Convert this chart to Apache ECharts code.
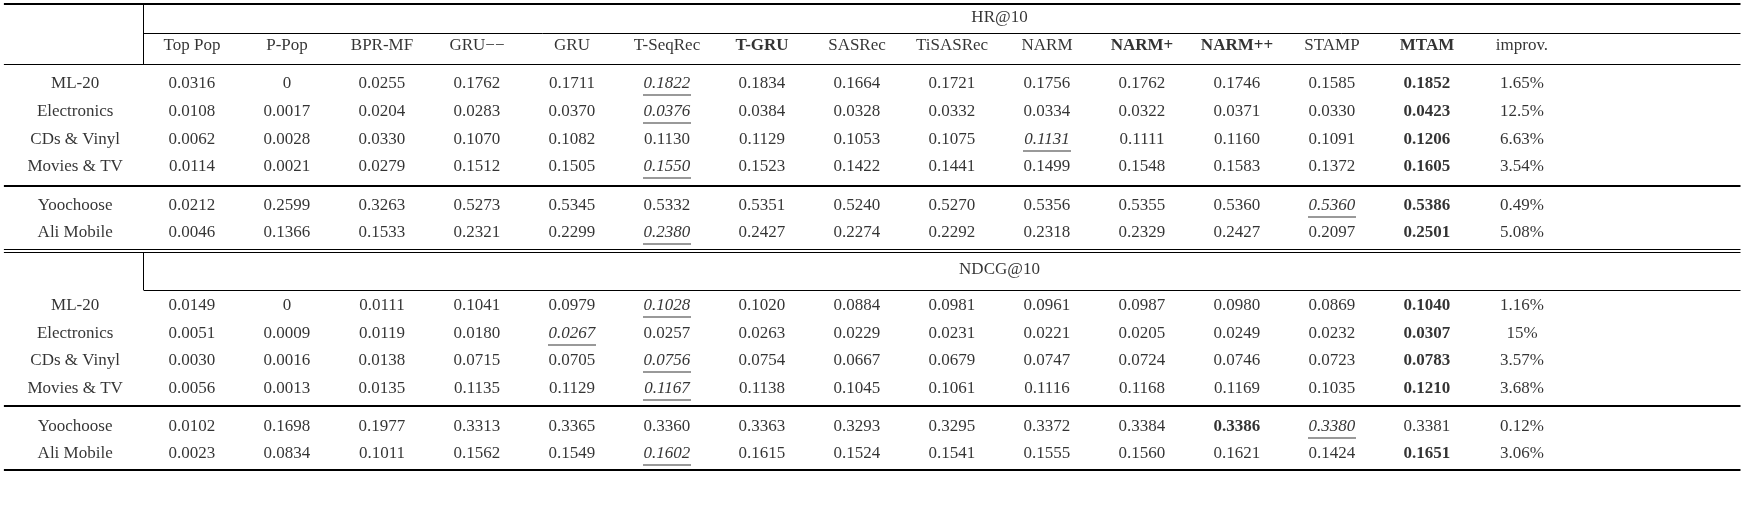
<!DOCTYPE html>
<html><head><meta charset="utf-8">
<script src="https://cdn.jsdelivr.net/npm/echarts@6/dist/echarts.min.js"></script>
<style>html,body{margin:0;padding:0;background:#fff}#c{width:1746px;height:527px}</style>
</head><body><div id="c"></div>
<script>
var columns = ['Top Pop','P-Pop','BPR-MF','GRU\u2212\u2212','GRU','T-SeqRec','T-GRU','SASRec','TiSASRec','NARM','NARM+','NARM++','STAMP','MTAM','improv.']
var boldColumns = [6, 10, 11, 13]
var datasets = ['ML-20','Electronics','CDs & Vinyl','Movies & TV','Yoochoose','Ali Mobile']
var hr = [
    ['0.0316','0','0.0255','0.1762','0.1711','0.1822','0.1834','0.1664','0.1721','0.1756','0.1762','0.1746','0.1585','0.1852','1.65%'],
    ['0.0108','0.0017','0.0204','0.0283','0.0370','0.0376','0.0384','0.0328','0.0332','0.0334','0.0322','0.0371','0.0330','0.0423','12.5%'],
    ['0.0062','0.0028','0.0330','0.1070','0.1082','0.1130','0.1129','0.1053','0.1075','0.1131','0.1111','0.1160','0.1091','0.1206','6.63%'],
    ['0.0114','0.0021','0.0279','0.1512','0.1505','0.1550','0.1523','0.1422','0.1441','0.1499','0.1548','0.1583','0.1372','0.1605','3.54%'],
    ['0.0212','0.2599','0.3263','0.5273','0.5345','0.5332','0.5351','0.5240','0.5270','0.5356','0.5355','0.5360','0.5360','0.5386','0.49%'],
    ['0.0046','0.1366','0.1533','0.2321','0.2299','0.2380','0.2427','0.2274','0.2292','0.2318','0.2329','0.2427','0.2097','0.2501','5.08%']
]
var ndcg = [
    ['0.0149','0','0.0111','0.1041','0.0979','0.1028','0.1020','0.0884','0.0981','0.0961','0.0987','0.0980','0.0869','0.1040','1.16%'],
    ['0.0051','0.0009','0.0119','0.0180','0.0267','0.0257','0.0263','0.0229','0.0231','0.0221','0.0205','0.0249','0.0232','0.0307','15%'],
    ['0.0030','0.0016','0.0138','0.0715','0.0705','0.0756','0.0754','0.0667','0.0679','0.0747','0.0724','0.0746','0.0723','0.0783','3.57%'],
    ['0.0056','0.0013','0.0135','0.1135','0.1129','0.1167','0.1138','0.1045','0.1061','0.1116','0.1168','0.1169','0.1035','0.1210','3.68%'],
    ['0.0102','0.1698','0.1977','0.3313','0.3365','0.3360','0.3363','0.3293','0.3295','0.3372','0.3384','0.3386','0.3380','0.3381','0.12%'],
    ['0.0023','0.0834','0.1011','0.1562','0.1549','0.1602','0.1615','0.1524','0.1541','0.1555','0.1560','0.1621','0.1424','0.1651','3.06%']
]
var hrBest = [13,13,13,13,13,13]
var hrSecond = [5,5,9,5,12,5]
var ndcgBest = [13,13,13,13,11,13]
var ndcgSecond = [5,4,5,5,12,5]

// layout: x in column units, y in pixel rows (inverted axis)
var labelX = -1.23
var hrRows = [84,112,140,167,206,233]
var ndcgRows = [306,334,361,389,427,454]

var font = 'Liberation Serif'
var texts = [], unders = []
function lbl(x, y, s, opt) {
    opt = opt || {}
    texts.push({value: [x, y], label: {show: true, position: 'inside', formatter: s,
        fontWeight: opt.bold ? 'bold' : 'normal', fontStyle: opt.italic ? 'italic' : 'normal',
        fontSize: 17, color: '#000', fontFamily: font}})
    if (opt.italic) unders.push([x, y])
}
lbl(8.5, 18, 'HR@10')
lbl(8.5, 270, 'NDCG@10')
columns.forEach(function (c, i) { lbl(i, 46, c, {bold: boldColumns.indexOf(i) >= 0}) })
function block(rows, ys, best, second) {
    rows.forEach(function (r, ri) {
        lbl(labelX, ys[ri], datasets[ri])
        r.forEach(function (v, ci) {
            lbl(ci, ys[ri], v, {bold: best[ri] == ci, italic: second[ri] == ci})
        })
    })
}
block(hr, hrRows, hrBest, hrSecond)
block(ndcg, ndcgRows, ndcgBest, ndcgSecond)

var L = -1.98, R = 16.3, V = -0.51
function ln(x1, y1, x2, y2, w) { return [{coord: [x1, y1], lineStyle: {width: w}}, {coord: [x2, y2]}] }
var rules = [
    ln(L,4,R,4,2), ln(V,33,R,33,1), ln(L,64,R,64,1.2), ln(L,186,R,186,2),
    ln(L,249,R,249,1.2), ln(L,252,R,252,1.2), ln(V,290,R,290,1.2), ln(L,406,R,406,2), ln(L,470,R,470,2),
    ln(V,4,V,64,1), ln(V,252,V,290,1)
]

var chart = echarts.init(document.getElementById('c'))
chart.setOption({
    animation: false,
    grid: {left: 0, right: 0, top: 0, bottom: 0},
    xAxis: {type: 'value', min: -2.021, max: 16.358, show: false},
    yAxis: {type: 'value', min: 0, max: 527, inverse: true, show: false},
    series: [
        {type: 'scatter', symbolSize: 0, data: texts,
            markLine: {silent: true, symbol: 'none', label: {show: false},
                lineStyle: {color: '#000', type: 'solid', width: 1}, data: rules}},
        {type: 'scatter', symbol: 'rect', symbolSize: [48, 1], symbolOffset: [0, 11],
            itemStyle: {color: '#000'}, data: unders}
    ]
})
</script></body></html>
